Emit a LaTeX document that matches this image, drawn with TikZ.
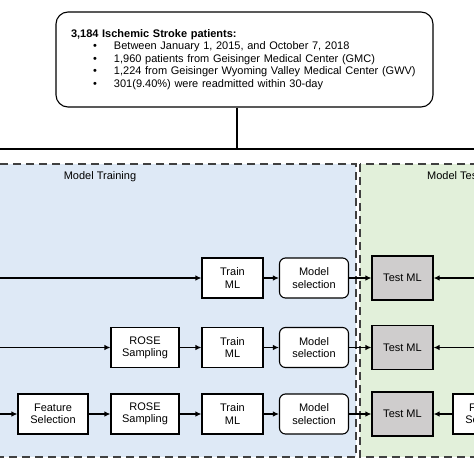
\documentclass[tikz,border=0pt]{standalone}
\usepackage{fontspec}
\setmainfont{Liberation Sans}
\usetikzlibrary{arrows.meta}
\definecolor{trainblue}{HTML}{DEE9F6}
\definecolor{testgreen}{HTML}{E2F0DA}
\definecolor{testgray}{HTML}{CFCDCD}
\definecolor{dashgray}{HTML}{404040}
\tikzset{
  stepbox/.style={draw,line width=1.1pt,fill=white,minimum height=40pt,align=center,inner sep=1pt},
  selbox/.style={stepbox,rounded corners=6pt,minimum width=69pt},
  testbox/.style={stepbox,fill=testgray,minimum width=61pt,minimum height=44pt},
}
\begin{document}
\begin{tikzpicture}[x=1pt,y=-1pt,font=\fontsize{11}{12.4}\selectfont]
  \useasboundingbox (0,0) rectangle (474,474);
  \clip (0,0) rectangle (474,474);
  % training and testing areas
  \begin{scope}[dash pattern=on 8pt off 5pt,line width=1.3pt,draw=dashgray]
  \draw[fill=trainblue] (-10,164) rectangle (356,457);
  \draw[fill=testgreen] (360,164) rectangle (490,457);
  \end{scope}
  \node (trlab) at (100,177) {Model Training};
  \node[anchor=west,inner sep=0pt] (telab) at (427,177) {Model Testing};
  % cohort
  \node[draw,line width=1.1pt,rounded corners=12pt,minimum width=377pt,minimum height=95pt,
        text width=347pt,align=left] (pat) at (244.5,59.5) {%
    \textbf{3,184 Ischemic Stroke patients:}\\
    \hspace*{22pt}\makebox[21pt][l]{\textbullet}Between January 1, 2015, and October 7, 2018\\
    \hspace*{22pt}\makebox[21pt][l]{\textbullet}1,960 patients from Geisinger Medical Center (GMC)\\
    \hspace*{22pt}\makebox[21pt][l]{\textbullet}1,224 from Geisinger Wyoming Valley Medical Center (GWV)\\
    \hspace*{22pt}\makebox[21pt][l]{\textbullet}301(9.40\%) were readmitted within 30-day};
  \coordinate (sp) at (237,149);
  \coordinate (hl) at (-5,149);
  \coordinate (hr) at (480,149);
  \draw[line width=1.3pt] (pat.south -| sp) -- (sp);
  \draw[line width=1.3pt] (hl) -- (hr);
  % rows
  \node[stepbox,minimum width=61pt] (tr1) at (232.5,278) {Train\\ML};
  \node[selbox] (ms1) at (314,278) {Model\\selection};
  \node[testbox] (te1) at (402.5,278) {Test ML};
  \node[stepbox,minimum width=68pt] (rs2) at (145,347.5) {ROSE\\Sampling};
  \node[stepbox,minimum width=61pt] (tr2) at (232.5,347.5) {Train\\ML};
  \node[selbox] (ms2) at (314,347.5) {Model\\selection};
  \node[testbox] (te2) at (402.5,347.5) {Test ML};
  \node[stepbox,minimum width=70pt] (fs3) at (53,414) {Feature\\Selection};
  \node[stepbox,minimum width=68pt] (rs3) at (145,414) {ROSE\\Sampling};
  \node[stepbox,minimum width=61pt] (tr3) at (232.5,414) {Train\\ML};
  \node[selbox] (ms3) at (314,414) {Model\\selection};
  \node[testbox] (te3) at (402.5,414) {Test ML};
  \node[stepbox,minimum width=70pt] (ft3) at (488,414) {Feature\\Selection};
  \coordinate (in1) at (-5,278);
  \coordinate (in2) at (-5,347.5);
  \coordinate (in3) at (-5,414);
  \coordinate (out1) at (480,278);
  \coordinate (out2) at (480,347.5);
  \begin{scope}[every edge/.style={draw=black,line width=1.3pt,-{Latex[length=6pt,width=5.5pt]}}]
  \path (in1) edge (tr1);
  \path (tr1) edge (ms1);
  \path (ms1) edge (te1);
  \path (out1) edge (te1);
  \path (in2) edge (rs2);
  \path (rs2) edge (tr2);
  \path (tr2) edge (ms2);
  \path (ms2) edge (te2);
  \path (out2) edge (te2);
  \path (in3) edge (fs3);
  \path (fs3) edge (rs3);
  \path (rs3) edge (tr3);
  \path (tr3) edge (ms3);
  \path (ms3) edge (te3);
  \path (ft3) edge (te3);
  \end{scope}
\end{tikzpicture}
\end{document}
